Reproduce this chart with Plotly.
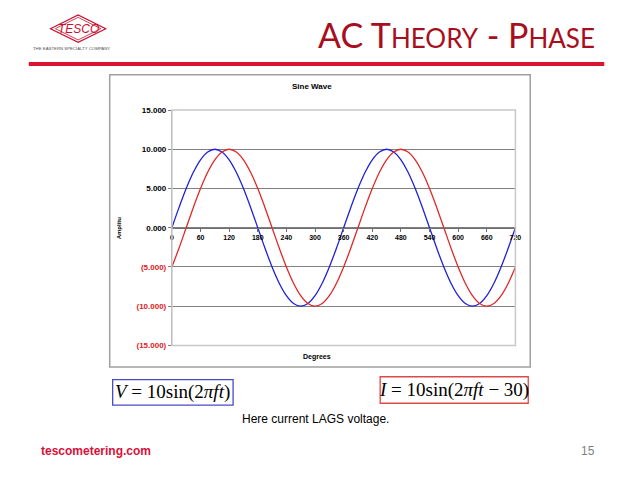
import plotly.graph_objects as go

# slide is 638 x 478 px; page body margin (8px) shifts the graph div,
# so the figure is drawn 16px smaller and every pixel position is shifted back
OFF = 8
W, H = 638 - 2 * OFF, 478 - 2 * OFF

degrees = [0, 15, 30, 45, 60, 75, 90, 105, 120, 135, 150, 165, 180, 195, 210, 225, 240, 255, 270, 285, 300, 315,
           330, 345, 360, 375, 390, 405, 420, 435, 450, 465, 480, 495, 510, 525, 540, 555, 570, 585, 600, 615, 630,
           645, 660, 675, 690, 705, 720]
voltage = [0.0, 2.59, 5.0, 7.07, 8.66, 9.66, 10.0, 9.66, 8.66, 7.07, 5.0, 2.59, 0.0, -2.59, -5.0, -7.07, -8.66,
           -9.66, -10.0, -9.66, -8.66, -7.07, -5.0, -2.59, 0.0, 2.59, 5.0, 7.07, 8.66, 9.66, 10.0, 9.66, 8.66, 7.07,
           5.0, 2.59, 0.0, -2.59, -5.0, -7.07, -8.66, -9.66, -10.0, -9.66, -8.66, -7.07, -5.0, -2.59, 0.0]
current = [-5.0, -2.59, 0.0, 2.59, 5.0, 7.07, 8.66, 9.66, 10.0, 9.66, 8.66, 7.07, 5.0, 2.59, 0.0, -2.59, -5.0,
           -7.07, -8.66, -9.66, -10.0, -9.66, -8.66, -7.07, -5.0, -2.59, 0.0, 2.59, 5.0, 7.07, 8.66, 9.66, 10.0,
           9.66, 8.66, 7.07, 5.0, 2.59, 0.0, -2.59, -5.0, -7.07, -8.66, -9.66, -10.0, -9.66, -8.66, -7.07, -5.0]

y_ticks = [-15, -10, -5, 0, 5, 10, 15]
y_labels = ["(15.000)", "(10.000)", "(5.000)", "0.000", "5.000", "10.000", "15.000"]
x_ticks = [0, 60, 120, 180, 240, 300, 360, 420, 480, 540, 600, 660, 720]

RED = "#C8102E"


def fx(p):
    return (p - OFF) / W


def fy(p):
    return 1 - (p - OFF) / H


def fmt_label(s):
    if s.startswith("("):
        return "<b><span style='color:#E02020'>" + s + "</span></b>"
    return "<b>" + s + "</b>"


fig = go.Figure()
fig.add_trace(go.Scatter(x=degrees, y=voltage, mode="lines", line=dict(color="#2020D8", width=1.3, shape="spline"),
                         showlegend=False))
fig.add_trace(go.Scatter(x=degrees, y=current, mode="lines", line=dict(color="#E02828", width=1.3, shape="spline"),
                         showlegend=False))

fig.update_layout(
    width=W, height=H, autosize=False,
    margin=dict(l=0, r=0, t=0, b=0),
    paper_bgcolor="white", plot_bgcolor="white",
    font=dict(family="Liberation Sans, Arial", color="black"),
    xaxis=dict(domain=[fx(172), fx(520)], range=[0, 720], tickvals=x_ticks,
               ticktext=["<b>%d</b>" % v for v in x_ticks],
               anchor="free", position=fy(228), showgrid=False, zeroline=False,
               showline=True, linecolor="#707070", linewidth=1,
               ticks="outside", ticklen=3, tickcolor="#707070", tickfont=dict(size=7)),
    yaxis=dict(domain=[fy(348), fy(108)], range=[-15, 15], tickvals=y_ticks,
               ticktext=[fmt_label(s) for s in y_labels],
               showgrid=True, gridcolor="#808080", gridwidth=1, zeroline=False,
               showline=True, linecolor="#808080", linewidth=1,
               ticks="outside", ticklen=3, tickcolor="#808080", tickfont=dict(size=8)),
)

shapes = [
    # header rule
    dict(type="line", xref="paper", yref="paper", x0=fx(27), x1=fx(610), y0=fy(61), y1=fy(61),
         line=dict(color="#DC1430", width=4)),
    # chart frame
    dict(type="rect", xref="paper", yref="paper", x0=fx(109), x1=fx(535), y0=fy(370), y1=fy(72),
         line=dict(color="#A0A0A0", width=1.5)),
    # plot area border (light) over the +-15 grid lines
    dict(type="rect", xref="paper", yref="paper", x0=fx(172), x1=fx(520), y0=fy(348), y1=fy(108),
         line=dict(color="#C8C8C8", width=1.5), layer="above"),
    # formula boxes
    dict(type="rect", xref="paper", yref="paper", x0=fx(112), x1=fx(234), y0=fy(409), y1=fy(383),
         line=dict(color="#4A4AC8", width=1.3)),
    dict(type="rect", xref="paper", yref="paper", x0=fx(383), x1=fx(533), y0=fy(407), y1=fy(380),
         line=dict(color="#E04848", width=1.3)),
    # logo diamond, outer and inner
    dict(type="path", xref="paper", yref="paper",
         path="M %f %f L %f %f L %f %f L %f %f Z" % (fx(49), fy(25), fx(77), fy(11), fx(105), fy(25), fx(77), fy(39)),
         line=dict(color=RED, width=1.2)),
    dict(type="path", xref="paper", yref="paper",
         path="M %f %f L %f %f L %f %f L %f %f Z" % (fx(54), fy(25), fx(77), fy(13.5), fx(100), fy(25), fx(77), fy(36.5)),
         line=dict(color=RED, width=0.8)),
]
fig.update_layout(shapes=shapes)

annotations = [
    dict(text="AC T<span style='font-size:26px'>HEORY</span> - P<span style='font-size:26px'>HASE</span>",
         x=fx(603), y=fy(31), xanchor="right",
         font=dict(family="Lato, Open Sans", size=34, color="#A80E1E")),
    dict(text="<i>TESCO</i>", x=fx(77), y=fy(25),
         font=dict(family="Liberation Sans Narrow, Liberation Sans", size=12, color=RED)),
    dict(text="THE EASTERN SPECIALTY COMPANY", x=fx(70), y=fy(45),
         font=dict(family="Liberation Sans Narrow, Liberation Sans", size=4.3, color="#505050")),
    dict(text="<b>Sine Wave</b>", x=fx(314), y=fy(84), font=dict(size=8)),
    dict(text="<b>Degrees</b>", x=fx(319), y=fy(360), font=dict(size=7)),
    dict(text="<b>Amplitu</b>", x=fx(118), y=fy(228), textangle=-90, font=dict(size=6)),
    dict(text="<i>V</i> = 10sin(2<i>πft</i>)", x=fx(173), y=fy(396),
         font=dict(family="Liberation Serif, Times New Roman", size=19, color="black")),
    dict(text="<i>I</i> = 10sin(2<i>πft</i> − 30)", x=fx(458), y=fy(393),
         font=dict(family="Liberation Serif, Times New Roman", size=19, color="black")),
    dict(text="Here current LAGS voltage.", x=fx(317), y=fy(423), font=dict(size=12, color="black")),
    dict(text="<b>tescometering.com</b>", x=fx(37), y=fy(456), xanchor="left", font=dict(size=12, color="#D8103A")),
    dict(text="15", x=fx(594), y=fy(456), font=dict(size=12, color="#808080")),
]
for a in annotations:
    a.setdefault("xref", "paper")
    a.setdefault("yref", "paper")
    a.setdefault("xanchor", "center")
    a.setdefault("yanchor", "middle")
    a.setdefault("showarrow", False)
fig.update_layout(annotations=annotations)

fig.write_html("out.html")
